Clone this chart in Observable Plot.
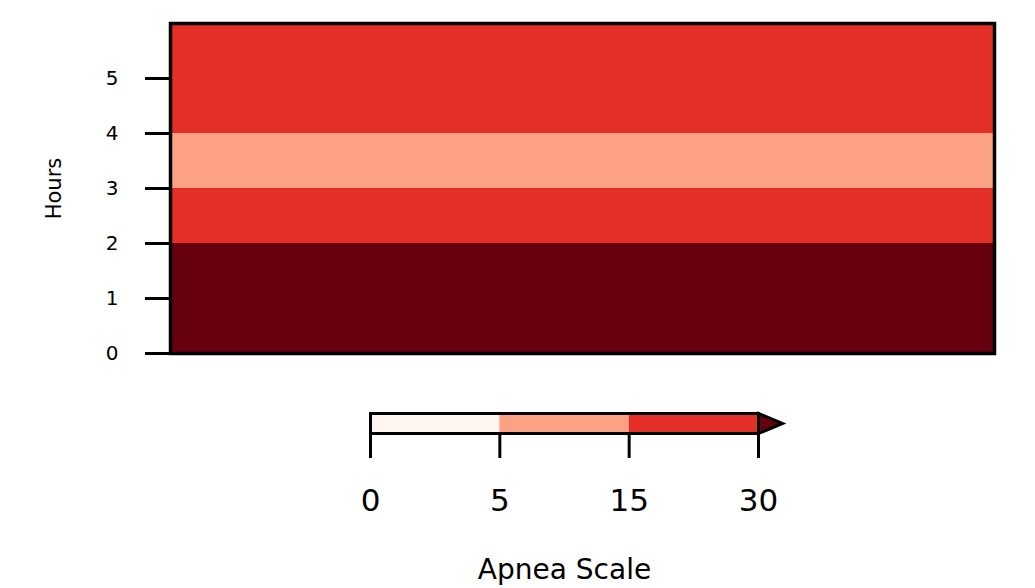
<!DOCTYPE html>
<html><head><meta charset="utf-8">
<script src="https://cdn.jsdelivr.net/npm/d3@7"></script>
<script src="https://cdn.jsdelivr.net/npm/@observablehq/plot@0.6"></script>
<style>
body{margin:0;background:#fff;font-family:"DejaVu Sans",sans-serif}
#chart svg{display:block}
</style></head><body><div id="chart"></div>
<script>
// Data
const hourStart = [0, 1, 2, 3, 4, 5];
const hourEnd   = [1, 2, 3, 4, 5, 6];
const apnea     = [34, 33, 22, 9, 21, 20];
const hourTicks = [0, 1, 2, 3, 4, 5];
const boundaries = [0, 5, 15, 30];           // colour-bar boundaries (extend max)
const palette = ["#fff5f0", "#fca183", "#e32f27", "#67000d"];

const rows = hourStart.map((h, i) => ({y1: h, y2: hourEnd[i], v: apnea[i]}));
const colorScale = {type: "threshold", domain: boundaries.slice(1), range: palette};
const font = {fontFamily: "DejaVu Sans", background: "white", color: "black", overflow: "visible"};

const heat = Plot.plot({
  width: 1035, height: 380,
  marginLeft: 170, marginRight: 41, marginTop: 23, marginBottom: 27,
  style: font,
  y: {domain: [0, 6], labelArrow: "none"},
  color: colorScale,
  marks: [
    Plot.rect(rows, {y1: "y1", y2: "y2", fill: "v"}),
    Plot.frame({stroke: "black", strokeWidth: 3.5}),
    Plot.axisY({ticks: hourTicks, tickFormat: d => String(d), tickSize: 25, tickPadding: 27,
                strokeWidth: 3, fontSize: 20, label: null}),
    Plot.axisY({ticks: [], tickSize: 0, label: "Hours", labelArrow: "none", labelAnchor: "center",
                labelOffset: 124, fontSize: 21})
  ]
});

const bins = boundaries.slice(0, -1).map((b, i) => ({i, lo: b}));
const arrowSymbol = {draw(ctx) { ctx.moveTo(0, -10); ctx.lineTo(24, 0); ctx.lineTo(0, 10); ctx.closePath(); }};

const bar = Plot.plot({
  width: 1035, height: 208,
  marginLeft: 370, marginRight: 277, marginTop: 33, marginBottom: 155,
  style: font,
  x: {domain: [0, boundaries.length - 1], labelArrow: "none"},
  color: colorScale,
  marks: [
    Plot.rect(bins, {x1: "i", x2: d => d.i + 1, fill: "lo"}),
    Plot.dot([boundaries.length - 1], {x: d => d, symbol: arrowSymbol, fill: () => 31,
              stroke: "black", strokeWidth: 3, r: 10}),
    Plot.frame({stroke: "black", strokeWidth: 3}),
    Plot.axisX({ticks: d3.range(boundaries.length), tickFormat: i => String(boundaries[i]),
                tickSize: 25, tickPadding: 30, strokeWidth: 3, fontSize: 31, label: null}),
    Plot.axisX({ticks: [], tickSize: 0, label: "Apnea Scale", labelArrow: "none", labelAnchor: "center",
                labelOffset: 145, fontSize: 28})
  ]
});

document.getElementById("chart").append(heat, bar);
</script></body></html>
